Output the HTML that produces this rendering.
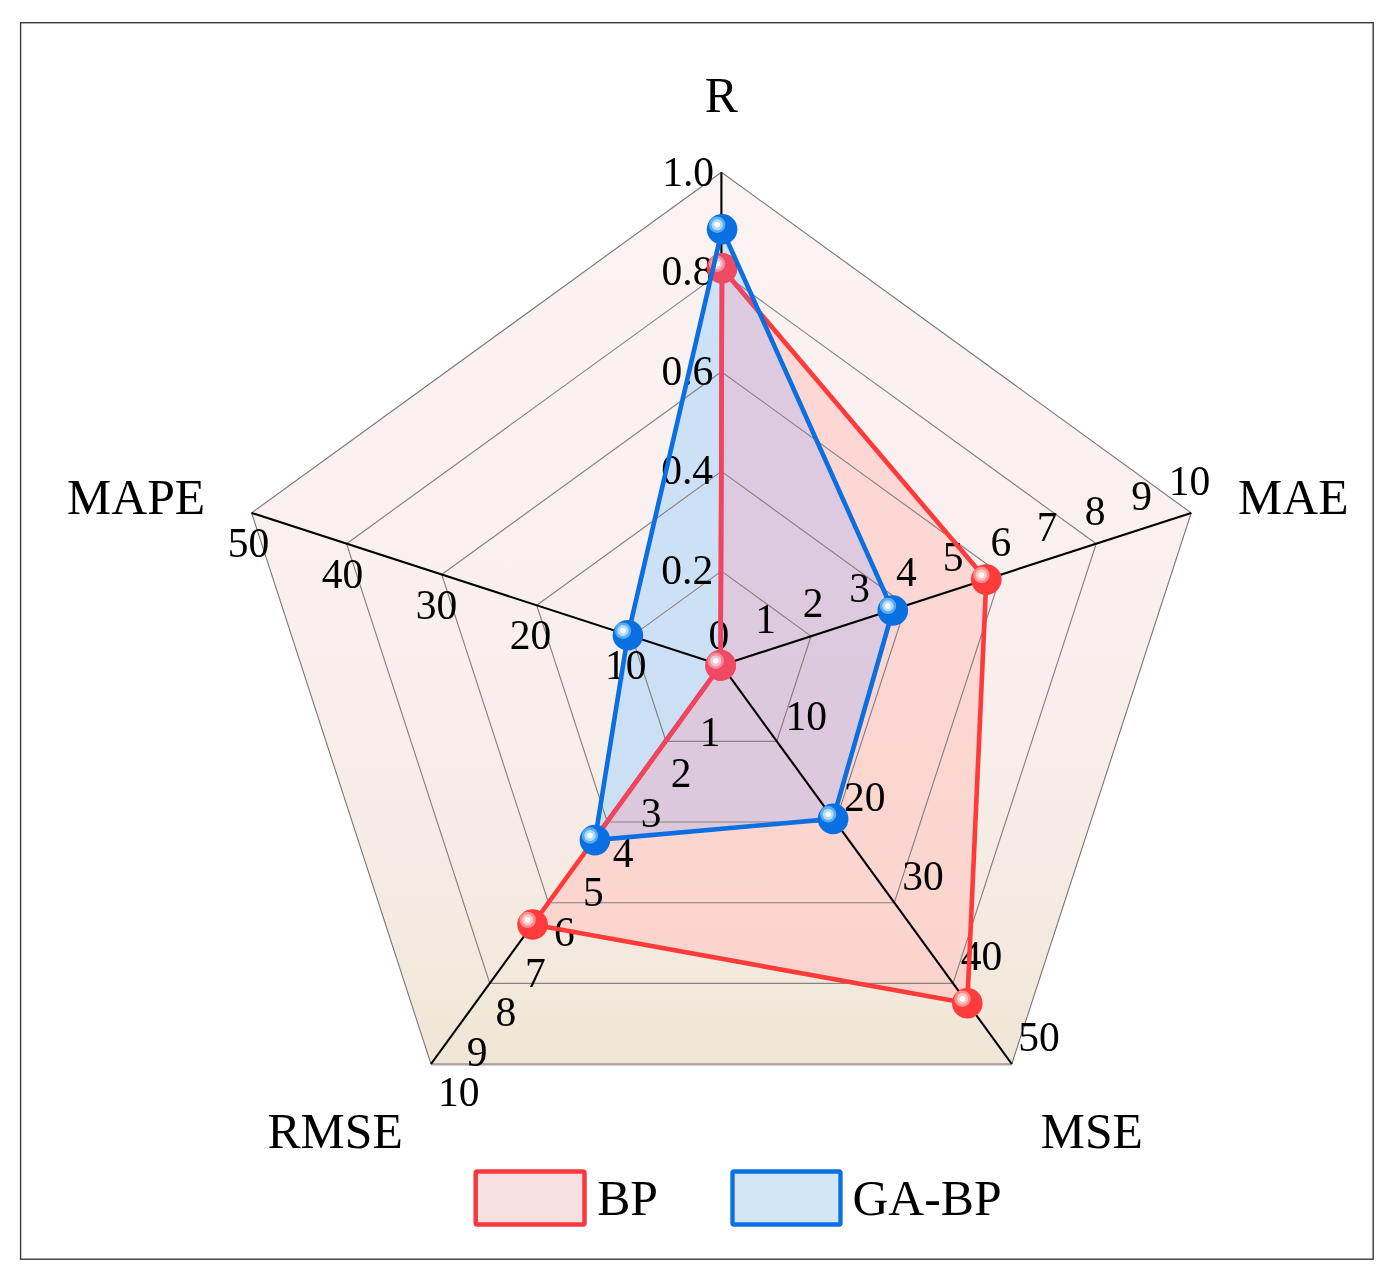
<!DOCTYPE html>
<html><head><meta charset="utf-8"><style>
html,body{margin:0;padding:0;background:#fff;}
body{width:1397px;height:1284px;overflow:hidden;}
svg{display:block;}
</style></head><body>
<svg width="1397" height="1284" viewBox="0 0 1397 1284">
<defs>
<linearGradient id="bg" x1="0" y1="172" x2="0" y2="1064" gradientUnits="userSpaceOnUse">
<stop offset="0" stop-color="#fbf3f3"/><stop offset="0.5" stop-color="#f9efee"/><stop offset="0.75" stop-color="#f6ece6"/><stop offset="1" stop-color="#f0e6d6"/>
</linearGradient>
</defs>
<mask id="notBlue" maskUnits="userSpaceOnUse" x="0" y="0" width="1397" height="1284"><rect width="1397" height="1284" fill="#fff"/><polygon points="722.1,229.3 892.8,610.5 833.1,818.9 594.9,840.1 627.9,635.2" fill="#000"/></mask>
<mask id="notRed" maskUnits="userSpaceOnUse" x="0" y="0" width="1397" height="1284"><rect width="1397" height="1284" fill="#fff"/><polygon points="722.0,268.3 986.3,579.6 967.3,1003.3 532.6,924.5 720.6,665.4" fill="#000"/></mask>
<clipPath id="redClip"><polygon points="722.0,268.3 986.3,579.6 967.3,1003.3 532.6,924.5 720.6,665.4"/></clipPath>
<clipPath id="blueClip"><polygon points="722.1,229.3 892.8,610.5 833.1,818.9 594.9,840.1 627.9,635.2"/></clipPath>
<rect x="0" y="0" width="1397" height="1284" fill="#fff"/>
<rect x="20.6" y="22.7" width="1352.6" height="1236.5" fill="none" stroke="#3a3a3a" stroke-width="1.4"/>
<polygon points="721.4,172.2 1191.2,512.9 1011.8,1064.0 431.0,1064.0 251.6,512.9" fill="url(#bg)" stroke="#7a7577" stroke-width="1.1"/>
<line x1="431.0" y1="1064.6" x2="1011.8" y2="1064.6" stroke="#b0a0a4" stroke-width="1.7"/>
<polygon points="722.0,268.3 986.3,579.6 967.3,1003.3 532.6,924.5 720.6,665.4" fill="rgb(255,199,193)" fill-opacity="0.6" mask="url(#notBlue)"/>
<polygon points="722.1,229.3 892.8,610.5 833.1,818.9 594.9,840.1 627.9,635.2" fill="rgb(173,215,250)" fill-opacity="0.6" mask="url(#notRed)"/>
<polygon points="722.1,229.3 892.8,610.5 833.1,818.9 594.9,840.1 627.9,635.2" fill="rgb(201,176,214)" fill-opacity="0.6" clip-path="url(#redClip)"/>
<polygon points="721.4,571.1 811.0,636.1 776.8,741.3 666.0,741.3 631.8,636.1" fill="none" stroke="#878183" stroke-width="1.15"/>
<polygon points="721.4,471.4 906.1,605.3 835.5,822.0 607.3,822.0 536.7,605.3" fill="none" stroke="#878183" stroke-width="1.15"/>
<polygon points="721.4,371.7 1001.1,574.5 894.3,902.7 548.5,902.7 441.7,574.5" fill="none" stroke="#878183" stroke-width="1.15"/>
<polygon points="721.4,271.9 1096.2,543.7 953.0,983.4 489.8,983.4 346.6,543.7" fill="none" stroke="#878183" stroke-width="1.15"/>
<line x1="721.4" y1="665.2" x2="721.4" y2="172.2" stroke="#000" stroke-width="2.1"/>
<line x1="721.4" y1="665.2" x2="1191.2" y2="512.9" stroke="#000" stroke-width="2.1"/>
<line x1="721.4" y1="665.2" x2="1011.8" y2="1064.0" stroke="#000" stroke-width="2.1"/>
<line x1="721.4" y1="665.2" x2="431.0" y2="1064.0" stroke="#000" stroke-width="2.1"/>
<line x1="721.4" y1="665.2" x2="251.6" y2="512.9" stroke="#000" stroke-width="2.1"/>
<g font-family="Liberation Serif, serif" font-size="41.5" fill="#000" text-anchor="middle"><text x="688.1" y="185.6">1.0</text><text x="687.5" y="285.1">0.8</text><text x="687.4" y="384.6">0.6</text><text x="687.1" y="484.2">0.4</text><text x="687.2" y="584.0">0.2</text><text x="718.9" y="648.8">0</text><text x="765.6" y="632.7">1</text><text x="813.0" y="616.9">2</text><text x="859.5" y="602.0">3</text><text x="906.3" y="586.1">4</text><text x="953.2" y="571.2">5</text><text x="1000.9" y="555.8">6</text><text x="1047.2" y="541.1">7</text><text x="1095.2" y="525.1">8</text><text x="1141.5" y="510.3">9</text><text x="1189.4" y="495.0">10</text><text x="806.3" y="729.8">10</text><text x="864.7" y="810.6">20</text><text x="923.1" y="890.0">30</text><text x="981.4" y="970.4">40</text><text x="1038.9" y="1050.6">50</text><text x="710.1" y="746.2">1</text><text x="681.0" y="786.6">2</text><text x="651.0" y="826.6">3</text><text x="623.1" y="867.1">4</text><text x="593.4" y="905.6">5</text><text x="564.4" y="946.1">6</text><text x="535.4" y="987.1">7</text><text x="505.9" y="1026.3">8</text><text x="477.0" y="1066.0">9</text><text x="458.8" y="1105.6">10</text><text x="248.5" y="557.4">50</text><text x="342.5" y="588.3">40</text><text x="436.5" y="618.9">30</text><text x="530.5" y="649.3">20</text><text x="625.7" y="679.0">10</text></g>
<polygon points="722.0,268.3 986.3,579.6 967.3,1003.3 532.6,924.5 720.6,665.4" fill="none" stroke="#ff3a3a" stroke-width="4.6" stroke-linejoin="round"/>
<circle cx="722.0" cy="268.3" r="15.3" fill="#ff3b3b"/><circle cx="717.1" cy="263.7" r="8.2" fill="#ff8f8f"/><circle cx="717.1" cy="263.7" r="5.6" fill="#ffc6c6"/><circle cx="717.1" cy="263.7" r="2.8" fill="#ffffff"/><circle cx="986.3" cy="579.6" r="15.3" fill="#ff3b3b"/><circle cx="981.4" cy="575.0" r="8.2" fill="#ff8f8f"/><circle cx="981.4" cy="575.0" r="5.6" fill="#ffc6c6"/><circle cx="981.4" cy="575.0" r="2.8" fill="#ffffff"/><circle cx="967.3" cy="1003.3" r="15.3" fill="#ff3b3b"/><circle cx="962.4" cy="998.7" r="8.2" fill="#ff8f8f"/><circle cx="962.4" cy="998.7" r="5.6" fill="#ffc6c6"/><circle cx="962.4" cy="998.7" r="2.8" fill="#ffffff"/><circle cx="532.6" cy="924.5" r="15.3" fill="#ff3b3b"/><circle cx="527.7" cy="919.9" r="8.2" fill="#ff8f8f"/><circle cx="527.7" cy="919.9" r="5.6" fill="#ffc6c6"/><circle cx="527.7" cy="919.9" r="2.8" fill="#ffffff"/><circle cx="720.6" cy="665.4" r="15.3" fill="#ff3b3b"/><circle cx="715.7" cy="660.8" r="8.2" fill="#ff8f8f"/><circle cx="715.7" cy="660.8" r="5.6" fill="#ffc6c6"/><circle cx="715.7" cy="660.8" r="2.8" fill="#ffffff"/>
<g clip-path="url(#blueClip)"><polygon points="722.0,268.3 986.3,579.6 967.3,1003.3 532.6,924.5 720.6,665.4" fill="none" stroke="#f04560" stroke-width="4.6" stroke-linejoin="round"/><circle cx="722.0" cy="268.3" r="15.3" fill="#f04a62"/><circle cx="717.1" cy="263.7" r="8.2" fill="#f08aa0"/><circle cx="717.1" cy="263.7" r="5.6" fill="#f4c4d4"/><circle cx="717.1" cy="263.7" r="2.8" fill="#f4ffff"/><circle cx="986.3" cy="579.6" r="15.3" fill="#f04a62"/><circle cx="981.4" cy="575.0" r="8.2" fill="#f08aa0"/><circle cx="981.4" cy="575.0" r="5.6" fill="#f4c4d4"/><circle cx="981.4" cy="575.0" r="2.8" fill="#f4ffff"/><circle cx="967.3" cy="1003.3" r="15.3" fill="#f04a62"/><circle cx="962.4" cy="998.7" r="8.2" fill="#f08aa0"/><circle cx="962.4" cy="998.7" r="5.6" fill="#f4c4d4"/><circle cx="962.4" cy="998.7" r="2.8" fill="#f4ffff"/><circle cx="532.6" cy="924.5" r="15.3" fill="#f04a62"/><circle cx="527.7" cy="919.9" r="8.2" fill="#f08aa0"/><circle cx="527.7" cy="919.9" r="5.6" fill="#f4c4d4"/><circle cx="527.7" cy="919.9" r="2.8" fill="#f4ffff"/><circle cx="720.6" cy="665.4" r="15.3" fill="#f04a62"/><circle cx="715.7" cy="660.8" r="8.2" fill="#f08aa0"/><circle cx="715.7" cy="660.8" r="5.6" fill="#f4c4d4"/><circle cx="715.7" cy="660.8" r="2.8" fill="#f4ffff"/></g>
<polygon points="722.1,229.3 892.8,610.5 833.1,818.9 594.9,840.1 627.9,635.2" fill="none" stroke="#0b6fe0" stroke-width="4.6" stroke-linejoin="round"/>
<circle cx="722.1" cy="229.3" r="15.3" fill="#0a6fe0"/><circle cx="717.2" cy="224.7" r="8.2" fill="#58aef2"/><circle cx="717.2" cy="224.7" r="5.6" fill="#b4dcfa"/><circle cx="717.2" cy="224.7" r="2.8" fill="#ffffff"/><circle cx="892.8" cy="610.5" r="15.3" fill="#0a6fe0"/><circle cx="887.9" cy="605.9" r="8.2" fill="#58aef2"/><circle cx="887.9" cy="605.9" r="5.6" fill="#b4dcfa"/><circle cx="887.9" cy="605.9" r="2.8" fill="#ffffff"/><circle cx="833.1" cy="818.9" r="15.3" fill="#0a6fe0"/><circle cx="828.2" cy="814.3" r="8.2" fill="#58aef2"/><circle cx="828.2" cy="814.3" r="5.6" fill="#b4dcfa"/><circle cx="828.2" cy="814.3" r="2.8" fill="#ffffff"/><circle cx="594.9" cy="840.1" r="15.3" fill="#0a6fe0"/><circle cx="590.0" cy="835.5" r="8.2" fill="#58aef2"/><circle cx="590.0" cy="835.5" r="5.6" fill="#b4dcfa"/><circle cx="590.0" cy="835.5" r="2.8" fill="#ffffff"/><circle cx="627.9" cy="635.2" r="15.3" fill="#0a6fe0"/><circle cx="623.0" cy="630.6" r="8.2" fill="#58aef2"/><circle cx="623.0" cy="630.6" r="5.6" fill="#b4dcfa"/><circle cx="623.0" cy="630.6" r="2.8" fill="#ffffff"/>
<g font-family="Liberation Serif, serif" font-size="49.7" fill="#000" text-anchor="middle"><text x="721.4" y="111.5">R</text><text x="1293.3" y="514.0">MAE</text><text x="136.1" y="513.6">MAPE</text><text x="335.1" y="1148.0">RMSE</text><text x="1091.8" y="1147.9">MSE</text><text x="627.6" y="1215.2">BP</text><text x="927.0" y="1214.6">GA-BP</text></g>
<rect x="475.7" y="1171.5" width="108.8" height="53" rx="1.5" fill="#f8dfe0" stroke="#f83a40" stroke-width="4.5"/>
<rect x="732.5" y="1171.5" width="108" height="53" rx="1.5" fill="#d3e6f5" stroke="#0a6fe0" stroke-width="4.3"/>
</svg>
</body></html>
